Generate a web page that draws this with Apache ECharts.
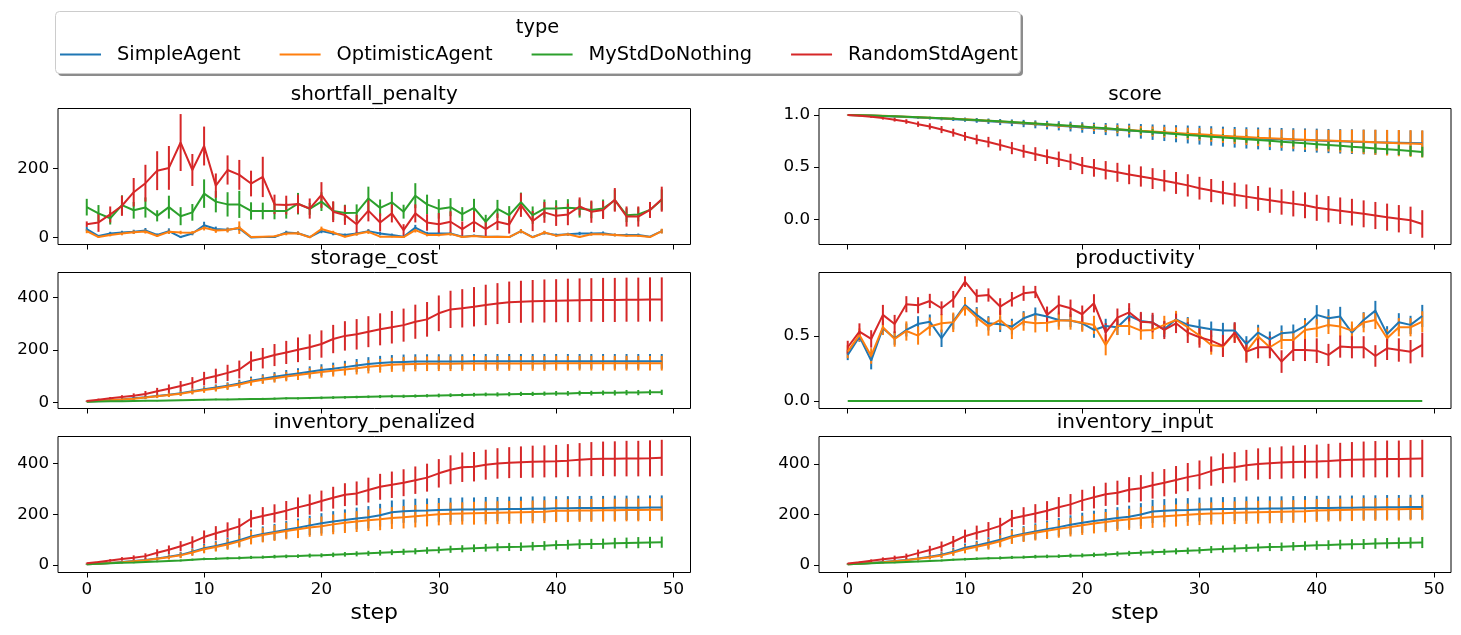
<!DOCTYPE html>
<html><head><meta charset="utf-8">
<script src="https://cdn.jsdelivr.net/npm/echarts@6/dist/echarts.min.js"></script>
<style>html,body{margin:0;padding:0;background:#fff}#c{width:1461px;height:635px}</style>
</head><body><div id="c"></div>
<script>
// ---------------- data ----------------
const steps = [0,1,2,3,4,5,6,7,8,9,10,11,12,13,14,15,16,17,18,19,20,21,22,23,24,25,26,27,28,29,30,31,32,33,34,35,36,37,38,39,40,41,42,43,44,45,46,47,48,49];
const agents = ['SimpleAgent','OptimisticAgent','MyStdDoNothing','RandomStdAgent'];
const legendTitle = 'type';
const xLabel = 'step';
const xTicks = [0,10,20,30,40,50];
const shortfallTicks = [0,200];
const scoreTicks = [0.0,0.5,1.0];
const storageTicks = [0,200,400];
const productivityTicks = [0.0,0.5];
const penalizedTicks = [0,200,400];
const inputTicks = [0,200,400];

const shortfallSimple = [25,5,12,15,17,21,8,19,2,12,36,25,23,27,1,2,2,15,13,2,19,12,8,12,19, 12,8,3,29,12,12,12,3,6,3,3,2,19,2,14,8,10,12,12,13,8,8,8,3,19];
const shortfallSimpleErr = [6,3,5,5,6,7,4,8,3,5,10,7,6,7,2,2,2,5,5,2,6,5,4,5,6, 5,4,2,8,5,5,5,2,3,2,2,2,6,2,5,4,4,5,5,5,4,4,4,2,6];
const shortfallOptimistic = [19,2,8,12,16,18,5,17,15,14,29,21,22,29,2,3,4,12,13,1,25,15,3,11,17, 3,3,2,22,8,8,11,2,5,2,3,2,19,1,15,6,10,2,10,10,8,6,6,2,19];
const shortfallOptimisticErr = [6,2,4,5,5,6,3,6,5,5,8,7,7,18,2,2,2,5,5,2,7,5,2,5,6, 2,2,2,7,4,4,5,2,3,2,2,2,6,1,5,3,4,2,4,4,4,3,3,2,7];
const shortfallDoNothing = [88,70,56,94,79,87,63,88,62,73,127,104,96,96,77,77,77,77,98,83,104,77,71,72,113, 86,102,75,121,96,83,88,68,86,46,83,65,102,65,84,84,86,84,80,84,108,65,67,80,109];
const shortfallDoNothingErr = [24,24,18,28,24,29,16,33,26,24,41,31,35,39,25,24,24,22,31,17,27,26,24,24,34, 24,30,20,36,28,28,26,20,26,20,26,26,28,25,26,24,25,26,24,26,30,20,20,22,30];
const shortfallRandom = [39,44,67,92,131,157,193,201,274,195,264,150,195,181,156,175,96,94,97,84,123,75,65,39,78, 44,70,22,70,44,39,46,25,46,25,46,38,94,48,73,63,67,90,75,80,109,61,61,80,111];
const shortfallRandomErr = [8,27,23,29,41,53,56,63,82,46,56,35,42,43,37,58,28,27,27,29,37,30,28,27,31, 26,26,17,26,24,32,30,22,30,24,24,26,34,29,30,29,31,26,32,26,34,29,29,23,36];

const scoreSimple = [1.0,0.998,0.995,0.99,0.985,0.98,0.975,0.97,0.965,0.96, 0.955,0.948,0.94,0.932,0.925,0.918,0.91,0.903,0.896,0.889, 0.88,0.872,0.865,0.858,0.85,0.843,0.835,0.828,0.82,0.813, 0.806,0.799,0.792,0.786,0.78,0.775,0.77,0.766,0.762,0.758, 0.754,0.75,0.747,0.744,0.741,0.738,0.736,0.734,0.732,0.73];
const scoreSimpleErr = [0,0.002,0.004,0.006,0.008,0.01,0.012,0.014,0.016,0.018, 0.02,0.023,0.026,0.029,0.032,0.035,0.038,0.041,0.044,0.047, 0.05,0.054,0.058,0.062,0.066,0.07,0.074,0.078,0.082,0.086, 0.09,0.093,0.096,0.099,0.102,0.105,0.107,0.109,0.111,0.113, 0.115,0.116,0.117,0.118,0.119,0.12,0.12,0.12,0.12,0.12];
const scoreOptimistic = [1.0,0.998,0.996,0.992,0.988,0.984,0.979,0.974,0.969,0.964, 0.958,0.951,0.944,0.937,0.93,0.922,0.915,0.908,0.9,0.893, 0.886,0.878,0.871,0.864,0.857,0.849,0.842,0.835,0.828,0.821, 0.814,0.807,0.8,0.794,0.788,0.782,0.777,0.772,0.767,0.763, 0.758,0.754,0.75,0.746,0.742,0.738,0.734,0.73,0.726,0.722];
const scoreOptimisticErr = [0,0.001,0.002,0.003,0.004,0.005,0.006,0.007,0.008,0.009, 0.01,0.012,0.014,0.016,0.018,0.02,0.022,0.024,0.026,0.028, 0.03,0.033,0.036,0.039,0.042,0.045,0.048,0.051,0.054,0.057, 0.06,0.064,0.068,0.072,0.076,0.08,0.084,0.088,0.092,0.096, 0.1,0.104,0.108,0.112,0.116,0.12,0.123,0.126,0.128,0.13];
const scoreDoNothing = [1.0,0.998,0.995,0.991,0.987,0.983,0.978,0.973,0.968,0.963, 0.957,0.951,0.945,0.939,0.932,0.925,0.918,0.911,0.904,0.897, 0.89,0.881,0.872,0.863,0.854,0.845,0.836,0.827,0.818,0.809, 0.8,0.792,0.784,0.776,0.768,0.76,0.752,0.744,0.736,0.728, 0.72,0.712,0.704,0.695,0.687,0.679,0.671,0.663,0.655,0.645];
const scoreDoNothingErr = [0,0.002,0.003,0.004,0.005,0.006,0.007,0.008,0.009,0.01, 0.011,0.012,0.013,0.014,0.015,0.016,0.017,0.018,0.019,0.02, 0.021,0.022,0.023,0.024,0.025,0.026,0.027,0.028,0.029,0.03, 0.031,0.032,0.033,0.034,0.035,0.036,0.037,0.038,0.039,0.04, 0.041,0.042,0.043,0.044,0.045,0.046,0.047,0.048,0.049,0.05];
const scoreRandom = [1.0,0.993,0.983,0.97,0.955,0.937,0.912,0.89,0.86,0.83, 0.795,0.765,0.74,0.712,0.682,0.652,0.625,0.6,0.575,0.55, 0.515,0.493,0.47,0.45,0.43,0.41,0.39,0.37,0.348,0.325, 0.298,0.275,0.255,0.236,0.217,0.2,0.183,0.166,0.15,0.134, 0.11,0.096,0.082,0.068,0.052,0.036,0.02,0.005,-0.01,-0.045];
const scoreRandomErr = [0.002,0.006,0.01,0.014,0.018,0.022,0.026,0.03,0.034,0.038, 0.042,0.046,0.05,0.054,0.058,0.062,0.066,0.07,0.074,0.078, 0.082,0.085,0.088,0.091,0.094,0.097,0.1,0.103,0.105,0.107, 0.109,0.111,0.113,0.115,0.117,0.119,0.121,0.122,0.123,0.124, 0.125,0.126,0.127,0.128,0.129,0.13,0.13,0.131,0.131,0.132];

const storageSimple = [3,5,8,11,15,19,24,29,35,42, 50,56,63,72,82,90,97,104,110,116, 123,128,134,140,146,150,153,154,155,155, 155,155,155,156,156,156,156,156,156,156, 156,156,156,156,156,156,156,156,156,156];
const storageSimpleErr = [1,2,3,4,5,6,7,8,9,10, 11,12,13,14,16,17,18,19,20,21, 22,23,24,25,26,27,27,28,28,28, 28,28,28,28,28,28,28,28,28,28, 28,28,28,28,28,28,28,28,28,28];
const storageOptimistic = [3,5,8,11,14,18,23,28,33,40, 47,53,60,68,78,86,92,98,104,110, 115,120,125,130,135,139,143,145,146,147, 147,147,148,148,148,148,148,148,148,148, 149,149,149,149,149,149,149,149,149,149];
const storageOptimisticErr = [1,2,3,4,5,6,7,8,9,10, 11,12,13,14,15,16,17,18,19,20, 21,22,23,24,25,26,27,28,28,28, 28,28,28,28,28,28,28,28,28,28, 28,28,28,28,28,28,28,28,28,28];
const storageDoNothing = [2,3,4,4,5,6,6,7,8,9, 10,11,11,12,13,13,14,15,15,16, 17,18,19,20,21,22,23,23,24,25, 26,27,28,29,30,30,31,32,32,33, 34,34,35,35,36,36,37,37,38,38];
const storageDoNothingErr = [0,1,1,1,1,2,2,2,2,2, 3,3,3,3,3,4,4,4,4,4, 5,5,5,5,5,6,6,6,6,6, 7,7,7,7,7,8,8,8,8,8, 9,9,9,9,9,10,10,10,10,10];
const storageRandom = [5,10,15,20,25,32,42,52,62,74, 90,100,112,125,157,168,180,190,200,210, 222,241,253,259,269,278,286,294,307,316, 339,354,358,364,371,376,381,383,385,386, 387,388,389,390,390,390,391,391,392,392];
const storageRandomErr = [2,4,5,7,9,11,13,16,19,22, 26,28,31,34,37,39,42,44,47,49, 52,54,56,58,59,61,62,63,65,66, 68,71,73,75,77,78,79,80,81,82, 82,83,83,83,84,84,84,84,84,84];

const productivitySimple = [0.354,0.495,0.31,0.56,0.482,0.546,0.592,0.61,0.482,0.61, 0.738,0.662,0.597,0.59,0.572,0.636,0.669,0.649,0.623,0.618, 0.597,0.546,0.577,0.567,0.654, 0.615,0.603,0.551,0.628,0.585, 0.567,0.551,0.541,0.541,0.438,0.526,0.474,0.521,0.528,0.577, 0.662,0.636,0.649,0.526,0.623,0.695,0.515,0.605,0.585,0.654];
const productivitySimpleErr = [0.04,0.04,0.067,0.05,0.05,0.05,0.06,0.055,0.067,0.06, 0.06,0.06,0.055,0.06,0.06,0.055,0.05,0.05,0.05,0.05, 0.055,0.06,0.055,0.06,0.06, 0.06,0.06,0.06,0.055,0.06, 0.06,0.06,0.06,0.06,0.06,0.06,0.06,0.06,0.06,0.06, 0.075,0.07,0.075,0.06,0.06,0.075,0.06,0.07,0.07,0.085];
const productivityOptimistic = [0.379,0.508,0.346,0.567,0.477,0.538,0.503,0.572,0.597,0.605, 0.726,0.641,0.572,0.623,0.546,0.61,0.597,0.602,0.618,0.618, 0.602,0.585,0.431,0.577,0.577, 0.541,0.546,0.585,0.623,0.567, 0.503,0.431,0.418,0.521,0.379,0.495,0.413,0.469,0.469,0.546, 0.559,0.585,0.572,0.541,0.603,0.623,0.482,0.567,0.567,0.61];
const productivityOptimisticErr = [0.05,0.05,0.06,0.06,0.06,0.074,0.07,0.07,0.07,0.075, 0.07,0.07,0.07,0.075,0.07,0.07,0.07,0.07,0.07,0.07, 0.07,0.07,0.08,0.07,0.07, 0.07,0.07,0.07,0.07,0.07, 0.07,0.075,0.07,0.07,0.07,0.07,0.07,0.07,0.07,0.075, 0.07,0.07,0.075,0.07,0.075,0.07,0.07,0.07,0.07,0.08];
const productivityDoNothing = [0,0,0,0,0,0,0,0,0,0, 0,0,0,0,0,0,0,0,0,0, 0,0,0,0,0,0,0,0,0,0, 0,0,0,0,0,0,0,0,0,0, 0,0,0,0,0,0,0,0,0,0];
const productivityDoNothingErr = [0,0,0,0,0,0,0,0,0,0, 0,0,0,0,0,0,0,0,0,0, 0,0,0,0,0,0,0,0,0,0, 0,0,0,0,0,0,0,0,0,0, 0,0,0,0,0,0,0,0,0,0];
const productivityRandom = [0.413,0.533,0.477,0.662,0.592,0.744,0.736,0.769,0.713,0.782, 0.918,0.808,0.815,0.726,0.782,0.828,0.838,0.662,0.738,0.713, 0.667,0.751,0.528,0.641,0.682, 0.61,0.603,0.546,0.597,0.526, 0.49,0.464,0.423,0.526,0.379,0.413,0.413,0.303,0.392,0.392, 0.387,0.354,0.418,0.413,0.413,0.346,0.405,0.392,0.379,0.431];
const productivityRandomErr = [0.05,0.064,0.067,0.077,0.07,0.062,0.062,0.055,0.053,0.064, 0.041,0.051,0.051,0.064,0.056,0.058,0.047,0.064,0.073,0.067, 0.067,0.07,0.07,0.07,0.07, 0.075,0.075,0.07,0.075,0.08, 0.08,0.085,0.085,0.08,0.085,0.085,0.085,0.087,0.085,0.085, 0.095,0.085,0.085,0.085,0.085,0.083,0.09,0.09,0.09,0.095];

const penalizedSimple = [3,5,8,12,16,20,26,33,40,52, 66,75,86,98,112,122,130,139,147,156, 164,171,177,183,188,196,208,212,214,215, 217,218,219,219,220,220,221,221,222,222, 223,223,224,224,224,225,225,225,226,226];
const penalizedSimpleErr = [1,2,3,4,5,6,7,9,11,14, 17,19,22,25,28,30,32,34,36,38, 40,41,42,43,44,45,46,46,47,47, 47,47,47,47,48,48,48,48,48,48, 48,48,48,48,48,48,48,48,48,48];
const penalizedOptimistic = [3,5,8,11,15,19,25,31,38,49, 62,71,81,93,108,118,126,134,141,148, 153,160,166,171,176,180,185,188,192,196, 200,202,203,204,205,206,207,208,209,210, 214,214,215,215,216,216,217,217,218,218];
const penalizedOptimisticErr = [1,2,3,4,5,6,7,9,11,13, 16,18,21,24,27,29,31,33,35,37, 38,39,40,41,42,43,43,44,44,44, 44,44,44,45,45,45,45,45,45,45, 45,45,45,45,45,45,45,45,45,45];
const penalizedDoNothing = [3,5,7,9,10,12,14,16,18,21, 24,25,27,28,30,31,33,34,35,37, 38,40,42,44,46,48,50,52,54,57, 59,62,64,66,68,70,71,72,74,76, 79,80,82,83,84,86,87,88,89,90];
const penalizedDoNothingErr = [1,1,2,2,3,3,3,4,4,4, 5,5,5,6,6,6,7,7,7,8, 8,9,9,10,10,11,11,12,12,13, 13,14,14,15,15,16,16,17,17,18, 18,19,19,20,20,21,21,22,22,22];
const penalizedRandom = [7,12,18,24,29,35,48,60,74,90, 110,125,138,152,182,193,203,214,227,238, 252,265,277,282,295,308,316,324,334,344, 361,375,385,387,395,400,403,405,407,408, 409,411,414,417,418,418,419,419,420,422];
const penalizedRandomErr = [2,3,5,7,9,11,14,17,20,23, 26,28,30,32,34,35,36,38,39,40, 41,43,45,47,49,51,52,53,54,55, 56,57,58,58,59,60,61,62,63,63, 64,65,66,67,68,69,70,70,71,71];

const inputSimple = [3,5,8,12,16,20,26,33,41,53, 68,77,88,100,114,124,133,142,150,159, 167,174,180,186,191,200,212,215,217,218, 220,221,222,222,223,223,224,224,225,225, 226,226,227,227,228,228,229,229,230,230];
const inputSimpleErr = [1,2,3,4,5,6,7,9,11,14, 17,19,22,25,28,30,32,34,36,38, 40,41,42,43,44,45,46,46,47,47, 47,47,47,47,48,48,48,48,48,48, 48,48,48,48,48,48,48,48,48,48];
const inputOptimistic = [3,5,8,11,15,19,25,31,38,49, 62,72,82,94,110,120,128,136,143,150, 157,164,170,176,181,186,190,193,196,199, 202,204,205,207,208,209,210,211,212,213, 216,217,218,219,220,220,221,221,222,222];
const inputOptimisticErr = [1,2,3,4,5,6,7,9,11,13, 16,18,21,24,27,29,31,33,35,37, 38,39,40,41,42,43,43,44,44,44, 44,44,44,45,45,45,45,45,45,45, 45,45,45,45,45,45,45,45,45,45];
const inputDoNothing = [3,5,7,9,10,12,14,16,18,21, 23,25,27,28,30,31,33,34,35,37, 38,40,42,44,46,48,50,52,54,56, 58,61,63,65,67,69,71,72,74,76, 78,79,81,82,83,85,86,87,88,89];
const inputDoNothingErr = [1,1,2,2,3,3,3,4,4,4, 5,5,5,6,6,6,7,7,7,8, 8,9,9,10,10,11,11,12,12,13, 13,14,14,15,15,16,16,17,17,18, 18,19,19,20,20,21,21,22,22,22];
const inputRandom = [6,11,17,23,28,34,47,59,73,92, 114,128,140,155,184,194,204,215,229,240, 256,268,280,286,298,304,316,326,337,348, 357,372,383,387,395,400,403,406,408,409, 410,412,415,417,418,419,420,420,421,422];
const inputRandomErr = [2,3,5,7,9,11,14,17,20,23, 26,28,30,32,34,35,37,38,40,41, 42,44,46,48,50,52,53,54,55,56, 57,58,59,60,61,62,63,64,65,66, 67,68,69,70,71,72,73,73,74,74];

// ---------------- layout / style ----------------
const COLORS = ['#1f77b4','#ff7f0e','#2ca02c','#d62728'];
const FONT = 'DejaVu Sans';
const TICK_FS = 16.7, TITLE_FS = 20, LEGEND_FS = 19.4, XLABEL_FS = 22;

const panels = [
  {title:'shortfall_penalty', means:[shortfallSimple,shortfallOptimistic,shortfallDoNothing,shortfallRandom], errs:[shortfallSimpleErr,shortfallOptimisticErr,shortfallDoNothingErr,shortfallRandomErr], ticks:shortfallTicks, min:-19.5, max:372, dec:0},
  {title:'score', means:[scoreSimple,scoreOptimistic,scoreDoNothing,scoreRandom], errs:[scoreSimpleErr,scoreOptimisticErr,scoreDoNothingErr,scoreRandomErr], ticks:scoreTicks, min:-0.242, max:1.062, dec:1},
  {title:'storage_cost', means:[storageSimple,storageOptimistic,storageDoNothing,storageRandom], errs:[storageSimpleErr,storageOptimisticErr,storageDoNothingErr,storageRandomErr], ticks:storageTicks, min:-23.6, max:494.5, dec:0},
  {title:'productivity', means:[productivitySimple,productivityOptimistic,productivityDoNothing,productivityRandom], errs:[productivitySimpleErr,productivityOptimisticErr,productivityDoNothingErr,productivityRandomErr], ticks:productivityTicks, min:-0.058, max:0.988, dec:1},
  {title:'inventory_penalized', means:[penalizedSimple,penalizedOptimistic,penalizedDoNothing,penalizedRandom], errs:[penalizedSimpleErr,penalizedOptimisticErr,penalizedDoNothingErr,penalizedRandomErr], ticks:penalizedTicks, min:-29.5, max:506, dec:0},
  {title:'inventory_input', means:[inputSimple,inputOptimistic,inputDoNothing,inputRandom], errs:[inputSimpleErr,inputOptimisticErr,inputDoNothingErr,inputRandomErr], ticks:inputTicks, min:-29.8, max:509, dec:0}
];

const colLeft = [58, 819], colWidth = [632.5, 632];
const rowTop = [108.5, 272.5, 436.5], rowH = 136;

const grids = [], xAxes = [], yAxes = [], series = [], graphics = [];

panels.forEach((p, g) => {
  const col = g % 2, row = Math.floor(g / 2);
  const left = colLeft[col], top = rowTop[row], w = colWidth[col];
  grids.push({left:left, top:top, width:w, height:rowH, show:true, borderColor:'#000', borderWidth:1, backgroundColor:'transparent', containLabel:false});
  const bottom = row === 2;
  xAxes.push({type:'value', gridIndex:g, min:-2.45, max:51.45, position:'bottom',
    axisLine:{show:false, onZero:false}, splitLine:{show:false},
    axisTick:{show:true, inside:false, length:5, customValues:xTicks, lineStyle:{color:'#000', width:1}},
    axisLabel:{show:bottom, customValues:xTicks, margin:9, color:'#000', fontSize:TICK_FS, fontFamily:FONT}});
  yAxes.push({type:'value', gridIndex:g, min:p.min, max:p.max, position:'left',
    axisLine:{show:false, onZero:false}, splitLine:{show:false},
    axisTick:{show:true, inside:false, length:5, customValues:p.ticks, lineStyle:{color:'#000', width:1}},
    axisLabel:{show:true, customValues:p.ticks, margin:9, color:'#000', fontSize:TICK_FS, fontFamily:FONT,
      formatter: v => Number(v).toFixed(p.dec)}});
  graphics.push({type:'text', x:left + w/2, y:top - 14, z:10,
    style:{text:p.title, font:TITLE_FS + 'px "' + FONT + '"', fill:'#000', align:'center', verticalAlign:'middle'}});
  if (bottom) {
    graphics.push({type:'text', x:left + w/2, y:613, z:10,
      style:{text:xLabel, font:XLABEL_FS + 'px "' + FONT + '"', fill:'#000', align:'center', verticalAlign:'middle'}});
  }
  agents.forEach((a, k) => {
    const m = p.means[k], e = p.errs[k], c = COLORS[k];
    series.push({type:'line', name:a, xAxisIndex:g, yAxisIndex:g, color:c, symbol:'none', silent:true,
      lineStyle:{color:c, width:2}, data: steps.map((s, i) => [s, m[i]]), animation:false, z:2});
    series.push({type:'custom', name:a, xAxisIndex:g, yAxisIndex:g, color:c, silent:true, animation:false, z:2,
      encode:{x:0, y:[1,2]},
      data: steps.map((s, i) => [s, m[i] - e[i], m[i] + e[i]]),
      renderItem: function (params, api) {
        const x = api.value(0), lo = api.value(1), hi = api.value(2);
        if (!(hi - lo > 0)) return {type:'group', children:[]};
        const p1 = api.coord([x, lo]), p2 = api.coord([x, hi]);
        return {type:'line', shape:{x1:p1[0], y1:p1[1], x2:p2[0], y2:p2[1]}, style:{stroke:c, lineWidth:2}};
      }});
  });
});

// legend box (matplotlib style with shadow)
graphics.push({type:'rect', shape:{x:58, y:14, width:965, height:62, r:4}, style:{fill:'rgba(0,0,0,0.45)'}, z:0});
graphics.push({type:'rect', shape:{x:55.5, y:11.5, width:965, height:62, r:4}, style:{fill:'#fff', stroke:'#cccccc', lineWidth:1}, z:1});
graphics.push({type:'text', x:537.5, y:28, z:10,
  style:{text:legendTitle, font:LEGEND_FS + 'px "' + FONT + '"', fill:'#000', align:'center', verticalAlign:'middle'}});

const option = {
  animation:false,
  backgroundColor:'#fff',
  grid:grids, xAxis:xAxes, yAxis:yAxes, series:series,
  graphic:{elements:graphics},
  legend:{show:true, left:60, top:45, padding:0, orient:'horizontal', selectedMode:false, z:20,
    itemWidth:41, itemHeight:2, itemGap:39, icon:'rect',
    data: agents.map((a, k) => ({name:a, icon:'rect', itemStyle:{color:COLORS[k]}})),
    textStyle:{color:'#000', fontSize:LEGEND_FS, fontFamily:FONT, padding:[0,0,0,11]}}
};
const chart = echarts.init(document.getElementById('c'), null, {renderer:'canvas', width:1461, height:635});
chart.setOption(option);
</script></body></html>
